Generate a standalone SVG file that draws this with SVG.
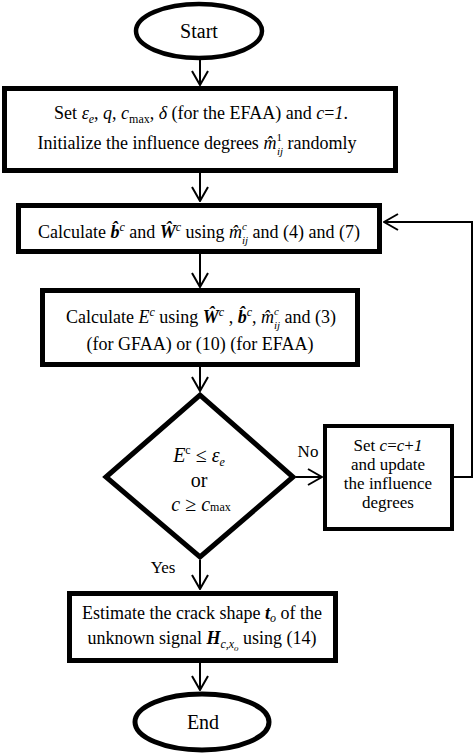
<svg xmlns="http://www.w3.org/2000/svg" width="474" height="755" viewBox="0 0 474 755">
<style>
text{font-family:"Liberation Serif","Times New Roman",serif;fill:#000;text-anchor:middle}
.t18{font-size:18px}
.t17{font-size:17px}
.t20{font-size:20px}
.i{font-style:italic}
.bi{font-style:italic;font-weight:bold}
.s{font-size:12px}
.ss{font-size:11px}
.box{fill:#fff;stroke:#000;stroke-width:5}
.conn{fill:none;stroke:#000;stroke-width:2}
</style>
<defs>
<marker id="arr" viewBox="0 0 16 18" refX="15" refY="9" markerWidth="16" markerHeight="18" markerUnits="userSpaceOnUse" orient="auto">
<path d="M1,1 L15,9 L1,17" fill="none" stroke="#000" stroke-width="2"/>
</marker>
</defs>
<g id="connectors">
<line class="conn" x1="200" y1="60" x2="200" y2="85" marker-end="url(#arr)"/>
<line class="conn" x1="200" y1="173" x2="200" y2="201" marker-end="url(#arr)"/>
<line class="conn" x1="200" y1="254" x2="200" y2="287" marker-end="url(#arr)"/>
<line class="conn" x1="200" y1="367" x2="200" y2="391" marker-end="url(#arr)"/>
<line class="conn" x1="296" y1="477" x2="322" y2="477" marker-end="url(#arr)"/>
<polyline class="conn" points="454,477 472,477 472,222 384,222" marker-end="url(#arr)"/>
<line class="conn" x1="200" y1="560" x2="200" y2="589" marker-end="url(#arr)"/>
<line class="conn" x1="200" y1="663" x2="200" y2="690" marker-end="url(#arr)"/>
</g>
<g id="start">
<ellipse cx="199" cy="31" rx="63" ry="27" fill="#fff" stroke="#000" stroke-width="4.5"/>
<text class="t20" x="199" y="38">Start</text>
</g>
<g id="init">
<rect class="box" x="4.5" y="88.5" width="391" height="82"/>
<text class="t18" x="201" y="119">Set <tspan class="i">ε</tspan><tspan class="s i" dy="4">e</tspan><tspan dy="-4">, </tspan><tspan class="i">q</tspan>, <tspan class="i">c</tspan><tspan class="s" dy="4">max</tspan><tspan dy="-4">, </tspan><tspan class="i">δ</tspan> (for the EFAA) and <tspan class="i">c</tspan>=<tspan class="i">1</tspan>.</text>
<text class="t18" x="197" y="149">Initialize the influence degrees  <tspan class="i">m̂</tspan><tspan class="ss" dy="-8">1</tspan><tspan class="ss i" dx="-5" dy="14">ij</tspan><tspan dy="-6"> randomly</tspan></text>
</g>
<g id="calc-bw">
<rect class="box" x="18.5" y="205.5" width="361" height="46"/>
<text class="t18" x="199" y="238">Calculate  <tspan class="bi">b̂</tspan><tspan class="s i" dy="-7">c</tspan><tspan dy="7"> and  </tspan><tspan class="bi">Ŵ</tspan><tspan class="s i" dy="-7">c</tspan><tspan dy="7"> using  </tspan><tspan class="i">m̂</tspan><tspan class="ss i" dy="-8">c</tspan><tspan class="ss i" dx="-5" dy="14">ij</tspan><tspan dy="-6">  and (4) and (7)</tspan></text>
</g>
<g id="calc-e">
<rect class="box" x="42.5" y="290.5" width="315" height="74"/>
<text class="t18" x="201" y="323">Calculate  <tspan class="i">E</tspan><tspan class="s i" dy="-7">c</tspan><tspan dy="7"> using  </tspan><tspan class="bi">Ŵ</tspan><tspan class="s i" dy="-7">c</tspan><tspan dy="7"> , </tspan><tspan class="bi">b̂</tspan><tspan class="s i" dy="-7">c</tspan><tspan dy="7">,  </tspan><tspan class="i">m̂</tspan><tspan class="ss i" dy="-8">c</tspan><tspan class="ss i" dx="-5" dy="14">ij</tspan><tspan dy="-6"> and (3)</tspan></text>
<text class="t18" x="200" y="350">(for GFAA) or (10) (for EFAA)</text>
</g>
<g id="decision">
<polygon points="106,477 200,395 293,477 200,557" fill="#fff" stroke="#000" stroke-width="5" stroke-linejoin="miter"/>
<text class="t20" x="199" y="462"><tspan class="i">E</tspan><tspan class="s" dy="-8">c</tspan><tspan dy="8"> ≤ </tspan><tspan class="i">ε</tspan><tspan class="s i" dy="4">e</tspan></text>
<text class="t20" x="199" y="487">or</text>
<text class="t20" x="201" y="511"><tspan class="i">c</tspan> ≥ <tspan class="i">c</tspan><tspan class="s">max</tspan></text>
</g>
<g id="update">
<rect x="325" y="426" width="127" height="103" fill="#fff" stroke="#000" stroke-width="4"/>
<text class="t17" x="388" y="451">Set <tspan class="i">c</tspan>=<tspan class="i">c</tspan>+<tspan class="i">1</tspan></text>
<text class="t17" x="388" y="470">and update</text>
<text class="t17" x="388" y="489">the influence</text>
<text class="t17" x="388" y="508">degrees</text>
</g>
<g id="labels">
<text class="t17" x="308" y="457">No</text>
<text class="t17" x="163" y="573">Yes</text>
</g>
<g id="estimate">
<rect class="box" x="69.5" y="593.5" width="266" height="67"/>
<text class="t18" x="202" y="619">Estimate the crack shape  <tspan class="bi">t</tspan><tspan class="s i" dy="3">o</tspan><tspan dy="-3">  of the</tspan></text>
<text class="t18" x="202" y="644">unknown signal  <tspan class="bi">H</tspan><tspan class="s i" dy="4">c,x</tspan><tspan class="i" font-size="9" dy="3">o</tspan><tspan dy="-7"> using (14)</tspan></text>
</g>
<g id="end">
<ellipse cx="202" cy="722" rx="67" ry="28" fill="#fff" stroke="#000" stroke-width="5"/>
<text class="t20" x="203" y="729">End</text>
</g>
</svg>
